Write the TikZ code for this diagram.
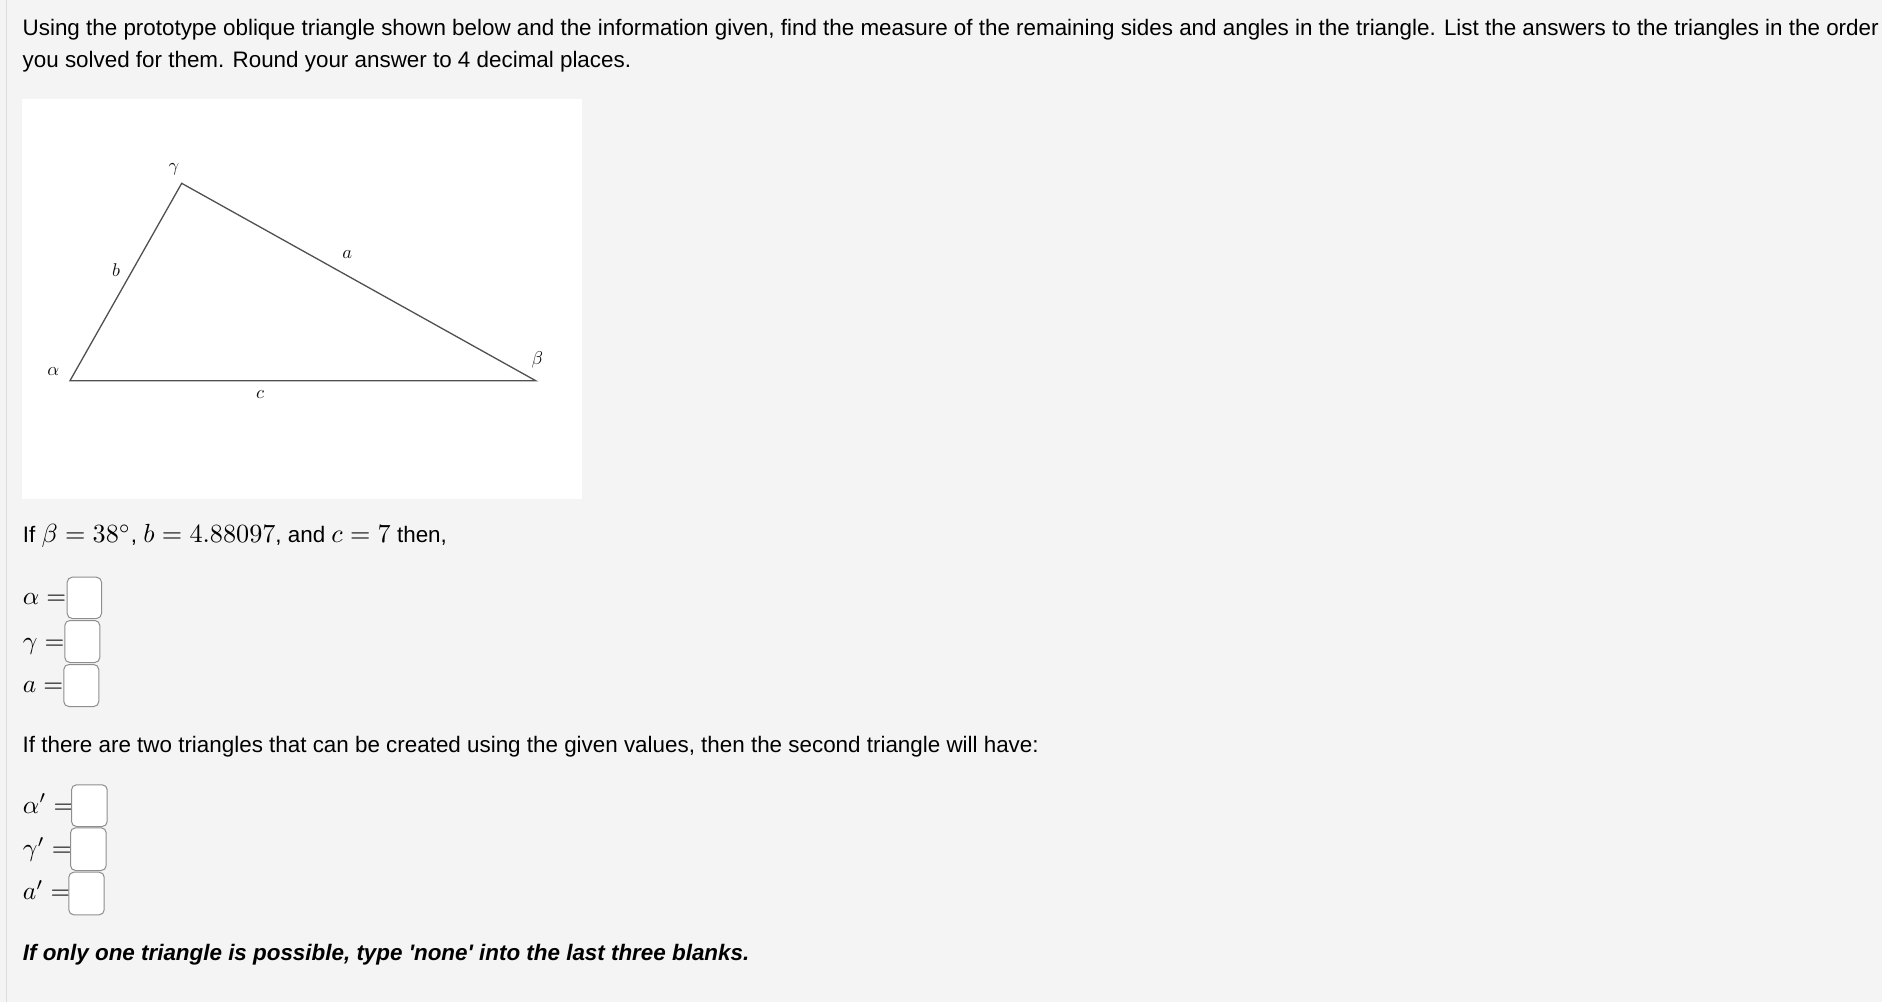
\documentclass[tikz,border=0pt]{standalone}
\usepackage{fontspec}
\setmainfont{Liberation Sans}
\definecolor{bg}{HTML}{F4F4F4}
\definecolor{bordergray}{HTML}{DDDDDD}
\definecolor{boxgray}{HTML}{8E8E8E}
\definecolor{linegray}{HTML}{505050}
\definecolor{lblgray}{HTML}{111111}
\newcommand\Mth[1]{\scalebox{2.55}{\fontsize{10}{12}\selectfont$#1$}}
\newcommand\Mtx[1]{\scalebox{2.62}{\fontsize{10}{12}\selectfont$#1$}}
\newcommand\Lbl[1]{\scalebox{1.85}{\fontsize{10}{12}\selectfont$#1$}}
\begin{document}
\begin{tikzpicture}[x=1pt,y=-1pt,
  txt/.style={anchor=base west, inner sep=0pt, font=\fontsize{22.4}{27}\selectfont, text=black},
  mth/.style={anchor=base west, inner sep=0pt, text=black},
  ansbox/.style={draw=boxgray, fill=white, rounded corners=5pt, line width=1pt, anchor=north west, inner sep=0pt},
  lbl/.style={inner sep=0pt, text=lblgray},
  side/.style={draw=linegray, line width=1.3pt}]
\fill[bg] (0,0) rectangle (1882,1002);
\useasboundingbox (0,0) rectangle (1882,1002);
\draw[bordergray, line width=1.5pt] (6.5,0) -- (6.5,1002);

\node[txt] (l1) at (22.5,35) {Using the prototype oblique triangle shown below and the information given, find the measure of the remaining sides and angles in the triangle. List the answers to the triangles in the order};
\node[txt] (l2) at (22.5,67) {you solved for them. Round your answer to 4 decimal places.};

\node[fill=white, draw=none, anchor=north west, inner sep=0pt, minimum width=560pt, minimum height=399.3pt] (img) at (21.7,99) {};
\coordinate (A) at (70,380.7);
\coordinate (C) at (181.7,183.3);
\coordinate (B) at (535.7,380.7);
\draw[side] (A) -- (C) -- (B) -- cycle;
\node[lbl] (lgamma) at (174,169.3) {\Lbl{\gamma}};
\node[lbl] (la) at (347.3,255) {\Lbl{a}};
\node[lbl] (lb) at (116,270) {\Lbl{b}};
\node[lbl] (lalpha) at (53.3,371.7) {\Lbl{\alpha}};
\node[lbl] (lc) at (260,395) {\Lbl{c}};
\node[lbl] (lbeta) at (537.3,360) {\Lbl{\beta}};

\node[txt] (given) at (22.7,542.7) {If \Mtx{\beta = 38^\circ}, \Mtx{b = 4.88097}, and \Mtx{c = 7} then,};

\node[mth] (ealpha) at (22.7,604.5) {\Mth{\alpha =}};
\node[ansbox, minimum width=34.3pt, minimum height=41.3pt] (b1) at (66.7,576.7) {};
\node[mth] (egamma) at (22.7,649) {\Mth{\gamma =}};
\node[ansbox, minimum width=35pt, minimum height=42pt] (b2) at (64.3,620) {};
\node[mth] (ea) at (22.7,692) {\Mth{a =}};
\node[ansbox, minimum width=35pt, minimum height=42pt] (b3) at (63.3,664) {};

\node[txt] (two) at (22.5,752.3) {If there are two triangles that can be created using the given values, then the second triangle will have:};

\node[mth] (ealpha2) at (22.7,813) {\Mth{\alpha' =}};
\node[ansbox, minimum width=35.7pt, minimum height=41.7pt] (b4) at (71,784.3) {};
\node[mth] (egamma2) at (22.7,856.4) {\Mth{\gamma' =}};
\node[ansbox, minimum width=35.7pt, minimum height=42.7pt] (b5) at (70,827.3) {};
\node[mth] (ea2) at (22.7,899.5) {\Mth{a' =}};
\node[ansbox, minimum width=35.4pt, minimum height=42.6pt] (b6) at (68.3,871.7) {};

\node[txt, font=\fontsize{22.4}{27}\selectfont\bfseries\itshape] (note) at (22.7,960) {If only one triangle is possible, type \textquotesingle none\textquotesingle{} into the last three blanks.};
\end{tikzpicture}
\end{document}
